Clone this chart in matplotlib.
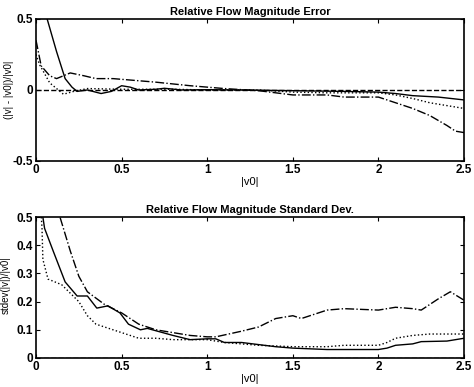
import numpy as np
import matplotlib.pyplot as plt

plt.rcParams['font.family'] = ['Liberation Sans', 'DejaVu Sans']
plt.rcParams['font.weight'] = 'bold'

# top panel: relative magnitude error
err_solid_x = [0.0, 0.065, 0.12, 0.17, 0.21, 0.24, 0.3, 0.38, 0.44, 0.5, 0.55, 0.6, 0.7, 0.75, 0.85, 1.0, 1.2, 1.5, 1.8, 2.0, 2.1, 2.2, 2.35, 2.5]
err_solid_y = [0.9, 0.5, 0.27, 0.08, 0.02, -0.01, 0.0, -0.025, -0.01, 0.03, 0.02, 0.0, 0.005, 0.012, 0.0, 0.002, 0.0, -0.005, -0.01, -0.015, -0.025, -0.04, -0.05, -0.07]

err_dot_x = [0.0, 0.02, 0.08, 0.16, 0.22, 0.3, 0.5, 0.8, 1.0, 1.3, 1.5, 1.7, 2.0, 2.1, 2.2, 2.3, 2.4, 2.5]
err_dot_y = [0.25, 0.18, 0.05, -0.03, -0.01, 0.01, 0.005, 0.005, 0.0, 0.0, -0.015, -0.02, -0.02, -0.035, -0.06, -0.09, -0.11, -0.13]

err_dd_x = [0.0, 0.03, 0.08, 0.12, 0.2, 0.28, 0.35, 0.45, 0.55, 0.7, 0.9, 1.1, 1.3, 1.5, 1.7, 1.8, 2.0, 2.1, 2.2, 2.3, 2.4, 2.45, 2.5]
err_dd_y = [0.35, 0.17, 0.1, 0.08, 0.12, 0.1, 0.08, 0.08, 0.07, 0.055, 0.03, 0.01, -0.005, -0.035, -0.035, -0.05, -0.05, -0.09, -0.13, -0.18, -0.25, -0.29, -0.3]

err_dash_x = [0.0, 2.5]
err_dash_y = [0.0, 0.0]

# bottom panel: relative magnitude standard deviation
sd_solid_x = [0.0, 0.04, 0.05, 0.1, 0.17, 0.24, 0.3, 0.355, 0.42, 0.49, 0.54, 0.61, 0.65, 0.8, 0.9, 1.0, 1.05, 1.1, 1.2, 1.4, 1.5, 1.7, 1.8, 2.0, 2.05, 2.1, 2.2, 2.25, 2.4, 2.5]
sd_solid_y = [0.8, 0.5, 0.46, 0.38, 0.27, 0.22, 0.22, 0.177, 0.185, 0.16, 0.12, 0.1, 0.105, 0.08, 0.065, 0.068, 0.068, 0.055, 0.055, 0.04, 0.035, 0.03, 0.03, 0.03, 0.035, 0.045, 0.05, 0.058, 0.06, 0.07]

sd_dot_x = [0.0, 0.035, 0.04, 0.07, 0.15, 0.25, 0.3, 0.35, 0.45, 0.55, 0.6, 0.7, 0.8, 1.0, 1.1, 1.3, 1.5, 1.7, 1.8, 2.0, 2.05, 2.1, 2.2, 2.3, 2.5]
sd_dot_y = [0.8, 0.46, 0.35, 0.28, 0.26, 0.2, 0.15, 0.12, 0.1, 0.08, 0.07, 0.07, 0.065, 0.065, 0.055, 0.045, 0.04, 0.04, 0.045, 0.045, 0.055, 0.07, 0.08, 0.085, 0.085]

sd_dd_x = [0.0, 0.14, 0.2, 0.25, 0.3, 0.4, 0.5, 0.6, 0.7, 0.8, 0.9, 1.0, 1.05, 1.2, 1.3, 1.4, 1.5, 1.55, 1.7, 1.8, 2.0, 2.1, 2.2, 2.25, 2.35, 2.42, 2.5]
sd_dd_y = [0.8, 0.5, 0.38, 0.29, 0.235, 0.19, 0.16, 0.12, 0.1, 0.09, 0.08, 0.075, 0.075, 0.095, 0.11, 0.14, 0.15, 0.14, 0.17, 0.175, 0.17, 0.18, 0.175, 0.17, 0.21, 0.235, 0.205]

sd_dash_x = [0.0, 2.5]
sd_dash_y = [0.0, 0.0]

fig = plt.figure(figsize=(4.74, 3.87), dpi=100)
ax1 = fig.add_axes([0.076, 0.584, 0.903, 0.367])
ax2 = fig.add_axes([0.076, 0.075, 0.903, 0.364])

lw = 1.0
ax1.plot(err_solid_x, err_solid_y, 'k-', lw=lw)
ax1.plot(err_dot_x, err_dot_y, 'k:', lw=lw)
ax1.plot(err_dd_x, err_dd_y, 'k-.', lw=lw)
ax1.plot(err_dash_x, err_dash_y, 'k--', lw=lw)
ax1.set_ylim(-0.5, 0.5)
ax1.set_yticks([-0.5, 0, 0.5])
ax1.set_yticklabels(['-0.5', '0', '0.5'])
ax1.set_title('Relative Flow Magnitude Error', fontsize=8, fontweight='bold', pad=3)
ax1.set_ylabel('(|v| - |v0|)/|v0|', fontsize=7)
ax1.yaxis.set_label_coords(-0.052, 0.5)

ax2.plot(sd_solid_x, sd_solid_y, 'k-', lw=lw)
ax2.plot(sd_dot_x, sd_dot_y, 'k:', lw=lw)
ax2.plot(sd_dd_x, sd_dd_y, 'k-.', lw=lw)
ax2.plot(sd_dash_x, sd_dash_y, 'k--', lw=lw)
ax2.set_ylim(0, 0.5)
ax2.set_yticks([0, 0.1, 0.2, 0.3, 0.4, 0.5])
ax2.set_yticklabels(['0', '0.1', '0.2', '0.3', '0.4', '0.5'])
ax2.set_title('Relative Flow Magnitude Standard Dev.', fontsize=8, fontweight='bold', pad=3)
ax2.set_ylabel('stdev(|v|)/|v0|', fontsize=7)
ax2.yaxis.set_label_coords(-0.058, 0.52)

for ax in (ax1, ax2):
    ax.set_xlim(0, 2.5)
    ax.set_xticks([0, 0.5, 1, 1.5, 2, 2.5])
    ax.set_xticklabels(['0', '0.5', '1', '1.5', '2', '2.5'])
    ax.tick_params(direction='in', top=True, right=True, labelsize=8.5, length=3, pad=2)
    ax.set_xlabel('|v0|', fontsize=8, labelpad=1)
    for s in ax.spines.values():
        s.set_linewidth(1.2)

fig.savefig('out.png', dpi=100)
